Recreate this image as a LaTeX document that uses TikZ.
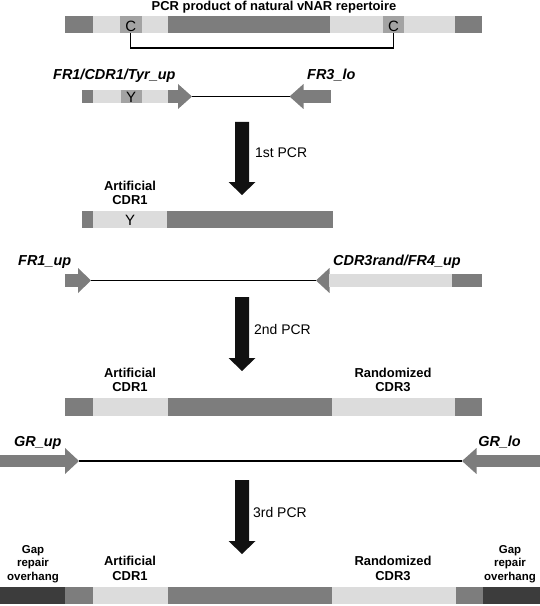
\documentclass[tikz,border=0pt]{standalone}
\usepackage{fontspec}
\setmainfont{Liberation Sans}
\definecolor{dk}{HTML}{7D7D7D}
\definecolor{lt}{HTML}{DCDCDC}
\definecolor{md}{HTML}{A3A3A3}
\definecolor{vd}{HTML}{3C3C3C}
\definecolor{ar}{HTML}{111111}
\begin{document}
\begin{tikzpicture}[x=1bp,y=-1bp,
  primerlbl/.style={font=\fontsize{14.5}{16}\selectfont\bfseries\itshape, inner sep=0pt},
  pcrlbl/.style={font=\fontsize{14}{16}\selectfont, inner sep=0pt, anchor=mid west},
  regionlbl/.style={font=\fontsize{13}{14.5}\selectfont\bfseries, align=center, inner sep=0pt},
  gaplbl/.style={font=\fontsize{11.5}{13.3}\selectfont\bfseries, align=center, inner sep=0pt},
  letter/.style={font=\fontsize{15}{17}\selectfont, inner sep=0pt},
  dnaline/.style={line width=1.3bp, draw=black},
  bigarrow/.style={fill=ar}
]
\useasboundingbox (0,0) rectangle (540,606);

% ---------- title and natural repertoire ----------
\node[font=\fontsize{13}{15}\selectfont\bfseries, inner sep=0pt] (title) at (274,7.5) {PCR product of natural vNAR repertoire};
\fill[dk] (65,16) rectangle (93,33);
\fill[lt] (93,16) rectangle (120,33);
\fill[md] (120,16) rectangle (141.5,33);
\fill[lt] (141.5,16) rectangle (168,33);
\fill[dk] (168,16) rectangle (330,33);
\fill[lt] (330,16) rectangle (383,33);
\fill[md] (383,16) rectangle (404,33);
\fill[lt] (404,16) rectangle (455,33);
\fill[dk] (455,16) rectangle (482,33);
\node[letter] (cA) at (130.7,26) {C};
\node[letter] (cB) at (393.5,26) {C};
\coordinate (c1) at (130.7,33);
\coordinate (c2) at (393.5,33);
\draw[dnaline] (c1) -- ++(0,15) -| (c2);

% ---------- first primer pair ----------
\node[primerlbl, anchor=mid west] (l1) at (53,77) {FR1/CDR1/Tyr\_up};
\node[primerlbl, anchor=mid west] (l2) at (307,77) {FR3\_lo};
\fill[dk] (82,90) rectangle (93,103);
\fill[lt] (93,90) rectangle (120.7,103);
\fill[md] (120.7,90) rectangle (141.7,103);
\fill[lt] (141.7,90) rectangle (168.3,103);
\fill[dk] (168.3,90) rectangle (178.5,103);
\fill[dk] (178,84) -- (192,96.5) -- (178,109) -- cycle;
\node[letter] (y1) at (131.2,97.5) {Y};
\fill[dk] (330.7,90) rectangle (303,103);
\fill[dk] (303.5,84) -- (289.5,96.5) -- (303.5,109) -- cycle;
\coordinate (p1) at (192,96.5);
\coordinate (p2) at (289.5,96.5);
\draw[dnaline] (p1) -- (p2);

% ---------- 1st PCR ----------
\fill[bigarrow] (235,122) -- (249,122) -- (249,182) -- (255.5,182) -- (242,195) -- (228.5,182) -- (235,182) -- cycle;
\node[pcrlbl] (pcr1) at (255,155) {1st PCR};

\node[regionlbl] (ac1) at (130,193) {Artificial\\CDR1};
\fill[dk] (82,211) rectangle (93,228);
\fill[lt] (93,211) rectangle (167,228);
\fill[dk] (167,211) rectangle (332.7,228);
\node[letter] (y2) at (130,220.5) {Y};

% ---------- second primer pair ----------
\node[primerlbl, anchor=mid west] (l3) at (18,263) {FR1\_up};
\node[primerlbl, anchor=mid west] (l4) at (333,263) {CDR3rand/FR4\_up};
\fill[dk] (65,274) rectangle (78.5,287);
\fill[dk] (78,268) -- (91,280.5) -- (78,293) -- cycle;
\fill[dk] (329.5,268) -- (316,280.5) -- (329.5,293) -- cycle;
\fill[lt] (329,274) rectangle (452,287);
\fill[dk] (452,274) rectangle (482,287);
\coordinate (p3) at (91,280.5);
\coordinate (p4) at (316,280.5);
\draw[dnaline] (p3) -- (p4);

% ---------- 2nd PCR ----------
\fill[bigarrow] (235,297) -- (249,297) -- (249,358) -- (255.5,358) -- (242,371) -- (228.5,358) -- (235,358) -- cycle;
\node[pcrlbl] (pcr2) at (254,331.5) {2nd PCR};

\node[regionlbl] (ac2) at (130,380) {Artificial\\CDR1};
\node[regionlbl] (rc2) at (393,380) {Randomized\\CDR3};
\fill[dk] (65,398) rectangle (93,415.5);
\fill[lt] (93,398) rectangle (168,415.5);
\fill[dk] (168,398) rectangle (331.7,415.5);
\fill[lt] (331.7,398) rectangle (455,415.5);
\fill[dk] (455,398) rectangle (482,415.5);

% ---------- third primer pair ----------
\node[primerlbl, anchor=mid west] (l5) at (14,444) {GR\_up};
\node[primerlbl, anchor=mid east] (l6) at (521,444) {GR\_lo};
\fill[dk] (0,455) rectangle (65.5,467);
\fill[dk] (65,448) -- (79,461) -- (65,474) -- cycle;
\fill[dk] (476,455) rectangle (540,467);
\fill[dk] (476.5,448) -- (462,461) -- (476.5,474) -- cycle;
\coordinate (p5) at (79,461);
\coordinate (p6) at (462,461);
\draw[dnaline] (p5) -- (p6);

% ---------- 3rd PCR ----------
\fill[bigarrow] (235,480) -- (249,480) -- (249,541) -- (255.5,541) -- (242,554) -- (228.5,541) -- (235,541) -- cycle;
\node[pcrlbl] (pcr3) at (253,515) {3rd PCR};

\node[gaplbl] (g1) at (33,564) {Gap\\repair\\overhang};
\node[gaplbl] (g2) at (510,564) {Gap\\repair\\overhang};
\node[regionlbl] (ac3) at (130,568.5) {Artificial\\CDR1};
\node[regionlbl] (rc3) at (393,568.5) {Randomized\\CDR3};
\fill[vd] (0,587) rectangle (65,604);
\fill[dk] (65,587) rectangle (93,604);
\fill[lt] (93,587) rectangle (168,604);
\fill[dk] (168,587) rectangle (332,604);
\fill[lt] (332,587) rectangle (456,604);
\fill[dk] (456,587) rectangle (483,604);
\fill[vd] (483,587) rectangle (540,604);
\end{tikzpicture}
\end{document}
